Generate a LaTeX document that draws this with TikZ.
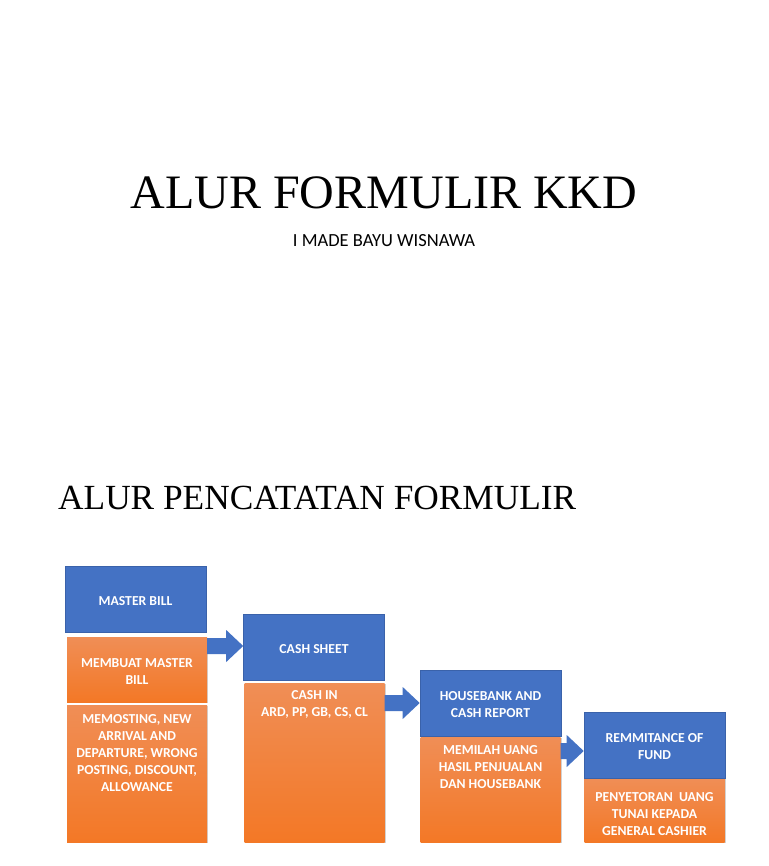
\documentclass[tikz,border=0pt]{standalone}
\usepackage{fontspec}
\setmainfont{Liberation Serif}
\newfontfamily\calib{Carlito}
\usetikzlibrary{calc,shadows}
\definecolor{pblue}{RGB}{68,114,196}
\definecolor{pblueb}{RGB}{58,98,170}
\definecolor{otop}{RGB}{240,142,86}
\definecolor{obot}{RGB}{243,120,38}
\tikzset{
  bluebox/.style={rectangle, fill=pblue, draw=pblueb, line width=0.6pt, minimum width=141pt, minimum height=66pt, inner sep=0pt},
  orangebox/.style={rectangle, top color=otop, bottom color=obot, minimum width=140pt, inner sep=0pt,
     drop shadow={opacity=0.35, shadow xshift=1.2pt, shadow yshift=-1.2pt}},
  boxtext/.style={text=white, font=\calib\bfseries\fontsize{13.7}{17}\selectfont, align=center, inner sep=0pt},
  arrowfill/.style={fill=pblue}
}
\newcommand\blockarrow[2]{%
  \fill[arrowfill] ($(#1)+(0,-8)$) -- ($(#2)+(-17,-8)$) -- ($(#2)+(-17,-16)$) -- (#2)
    -- ($(#2)+(-17,16)$) -- ($(#2)+(-17,8)$) -- ($(#1)+(0,8)$) -- cycle;}
\begin{document}
\begin{tikzpicture}[x=1pt,y=-1pt]
\useasboundingbox[fill=white] (0,0) rectangle (768,866);
% titles
\node[anchor=base, inner sep=0pt, font=\fontsize{48}{52}\selectfont] (title) at (384,209) {ALUR FORMULIR KKD};
\node[anchor=base, inner sep=0pt, font=\calib\fontsize{18.5}{20}\selectfont] (author) at (384,247) {I MADE BAYU WISNAWA};
\node[anchor=base west, inner sep=0pt, font=\fontsize{35.3}{38}\selectfont] (heading) at (58,509) {ALUR PENCATATAN FORMULIR};
% column 1
\node[orangebox, minimum height=65pt] (o1a) at (137,669.5) {};
\node[orangebox, minimum height=137pt] (o1b) at (137,773.5) {};
\node[bluebox] (b1) at (135.5,599) {};
\node[boxtext] (t1) at ($(b1.center)+(0,2)$) {MASTER BILL};
\node[boxtext] (t1a) at ($(o1a.center)+(0,2)$) {MEMBUAT MASTER\\BILL};
\node[boxtext, anchor=north] (t1b) at ($(o1b.north)+(0,10)$) {MEMOSTING, NEW\\ARRIVAL AND\\DEPARTURE, WRONG\\POSTING, DISCOUNT,\\ALLOWANCE};
% column 2
\node[orangebox, minimum height=159pt] (o2) at (314.5,762.5) {};
\node[bluebox] (b2) at (314,647) {};
\node[boxtext] (t2) at ($(b2.center)+(0,2)$) {CASH SHEET};
\node[boxtext, anchor=north] (t2a) at ($(o2.north)+(0,8)$) {CASH IN\\ARD, PP, GB, CS, CL};
% column 3
\node[orangebox, minimum height=105pt] (o3) at (490.5,789.5) {};
\node[bluebox] (b3) at (490.5,703) {};
\node[boxtext] (t3) at ($(b3.center)+(0,2)$) {HOUSEBANK AND\\CASH REPORT};
\node[boxtext, anchor=north] (t3a) at ($(o3.north)+(0,9)$) {MEMILAH UANG\\HASIL PENJUALAN\\DAN HOUSEBANK};
% column 4
\node[orangebox, minimum height=64pt] (o4) at (654.5,810) {};
\node[bluebox] (b4) at (654.5,745) {};
\node[boxtext] (t4) at ($(b4.center)+(0,2)$) {REMMITANCE OF\\FUND};
\node[boxtext, anchor=north] (t4a) at ($(o4.north)+(0,15)$) {PENYETORAN \ UANG\\TUNAI KEPADA\\GENERAL CASHIER};
% arrows
\coordinate (a1s) at ($(o1a.east |- b2.west)+(0,-1)$);
\coordinate (a1e) at ($(b2.west)+(0,-1)$);
\blockarrow{a1s}{a1e}
\coordinate (a2s) at (o2.east |- b3.west);
\coordinate (a2e) at (b3.west);
\blockarrow{a2s}{a2e}
\coordinate (a3s) at ($(o3.east |- b4.west)+(0,6)$);
\coordinate (a3e) at ($(b4.west)+(0,6)$);
\blockarrow{a3s}{a3e}
\end{tikzpicture}
\end{document}
